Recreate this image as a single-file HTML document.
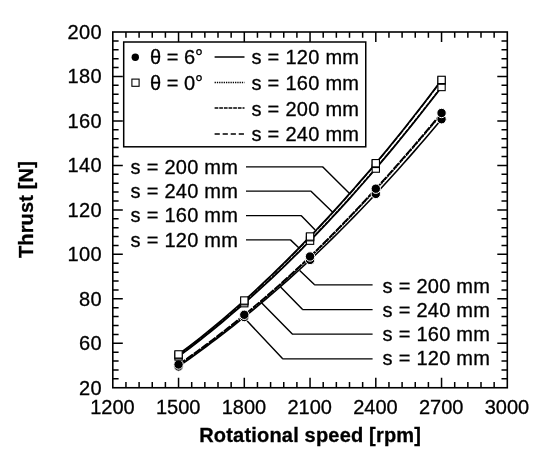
<!DOCTYPE html>
<html><head><meta charset="utf-8"><title>Thrust vs rotational speed</title>
<style>
html,body{margin:0;padding:0;background:#fff;}
svg{display:block;}
text{font-family:"Liberation Sans",Arial,sans-serif;font-size:20px;fill:#000;stroke:#000;stroke-width:0.3px;}
</style></head>
<body>
<svg width="550" height="464" viewBox="0 0 550 464">
<rect width="550" height="464" fill="#fff"/>
<rect x="112.8" y="32.0" width="394.50" height="355.75" fill="none" stroke="#000" stroke-width="1.6"/>
<path d="M125.95 387.75v-5.8M125.95 32.0v5.8M139.10 387.75v-5.8M139.10 32.0v5.8M152.25 387.75v-5.8M152.25 32.0v5.8M165.40 387.75v-5.8M165.40 32.0v5.8M178.55 387.75v-10.0M178.55 32.0v10.0M191.70 387.75v-5.8M191.70 32.0v5.8M204.85 387.75v-5.8M204.85 32.0v5.8M218.00 387.75v-5.8M218.00 32.0v5.8M231.15 387.75v-5.8M231.15 32.0v5.8M244.30 387.75v-10.0M244.30 32.0v10.0M257.45 387.75v-5.8M257.45 32.0v5.8M270.60 387.75v-5.8M270.60 32.0v5.8M283.75 387.75v-5.8M283.75 32.0v5.8M296.90 387.75v-5.8M296.90 32.0v5.8M310.05 387.75v-10.0M310.05 32.0v10.0M323.20 387.75v-5.8M323.20 32.0v5.8M336.35 387.75v-5.8M336.35 32.0v5.8M349.50 387.75v-5.8M349.50 32.0v5.8M362.65 387.75v-5.8M362.65 32.0v5.8M375.80 387.75v-10.0M375.80 32.0v10.0M388.95 387.75v-5.8M388.95 32.0v5.8M402.10 387.75v-5.8M402.10 32.0v5.8M415.25 387.75v-5.8M415.25 32.0v5.8M428.40 387.75v-5.8M428.40 32.0v5.8M441.55 387.75v-10.0M441.55 32.0v10.0M454.70 387.75v-5.8M454.70 32.0v5.8M467.85 387.75v-5.8M467.85 32.0v5.8M481.00 387.75v-5.8M481.00 32.0v5.8M494.15 387.75v-5.8M494.15 32.0v5.8M112.8 378.86h5.8M507.3 378.86h-5.8M112.8 369.96h5.8M507.3 369.96h-5.8M112.8 361.07h5.8M507.3 361.07h-5.8M112.8 352.18h5.8M507.3 352.18h-5.8M112.8 343.28h10.0M507.3 343.28h-10.0M112.8 334.39h5.8M507.3 334.39h-5.8M112.8 325.49h5.8M507.3 325.49h-5.8M112.8 316.60h5.8M507.3 316.60h-5.8M112.8 307.71h5.8M507.3 307.71h-5.8M112.8 298.81h10.0M507.3 298.81h-10.0M112.8 289.92h5.8M507.3 289.92h-5.8M112.8 281.02h5.8M507.3 281.02h-5.8M112.8 272.13h5.8M507.3 272.13h-5.8M112.8 263.24h5.8M507.3 263.24h-5.8M112.8 254.34h10.0M507.3 254.34h-10.0M112.8 245.45h5.8M507.3 245.45h-5.8M112.8 236.56h5.8M507.3 236.56h-5.8M112.8 227.66h5.8M507.3 227.66h-5.8M112.8 218.77h5.8M507.3 218.77h-5.8M112.8 209.88h10.0M507.3 209.88h-10.0M112.8 200.98h5.8M507.3 200.98h-5.8M112.8 192.09h5.8M507.3 192.09h-5.8M112.8 183.19h5.8M507.3 183.19h-5.8M112.8 174.30h5.8M507.3 174.30h-5.8M112.8 165.41h10.0M507.3 165.41h-10.0M112.8 156.51h5.8M507.3 156.51h-5.8M112.8 147.62h5.8M507.3 147.62h-5.8M112.8 138.73h5.8M507.3 138.73h-5.8M112.8 129.83h5.8M507.3 129.83h-5.8M112.8 120.94h10.0M507.3 120.94h-10.0M112.8 112.04h5.8M507.3 112.04h-5.8M112.8 103.15h5.8M507.3 103.15h-5.8M112.8 94.26h5.8M507.3 94.26h-5.8M112.8 85.36h5.8M507.3 85.36h-5.8M112.8 76.47h10.0M507.3 76.47h-10.0M112.8 67.57h5.8M507.3 67.57h-5.8M112.8 58.68h5.8M507.3 58.68h-5.8M112.8 49.79h5.8M507.3 49.79h-5.8M112.8 40.89h5.8M507.3 40.89h-5.8" stroke="#000" stroke-width="1.5" fill="none"/>
<text x="101.9" y="394.65" text-anchor="end" letter-spacing="0.35">20</text>
<text x="101.9" y="350.18" text-anchor="end" letter-spacing="0.35">60</text>
<text x="101.9" y="305.71" text-anchor="end" letter-spacing="0.35">80</text>
<text x="101.9" y="261.24" text-anchor="end" letter-spacing="0.35">100</text>
<text x="101.9" y="216.78" text-anchor="end" letter-spacing="0.35">120</text>
<text x="101.9" y="172.31" text-anchor="end" letter-spacing="0.35">140</text>
<text x="101.9" y="127.84" text-anchor="end" letter-spacing="0.35">160</text>
<text x="101.9" y="83.37" text-anchor="end" letter-spacing="0.35">180</text>
<text x="101.9" y="38.90" text-anchor="end" letter-spacing="0.35">200</text>
<text x="112.50" y="414.4" text-anchor="middle">1200</text>
<text x="178.25" y="414.4" text-anchor="middle">1500</text>
<text x="244.00" y="414.4" text-anchor="middle">1800</text>
<text x="309.75" y="414.4" text-anchor="middle">2100</text>
<text x="375.50" y="414.4" text-anchor="middle">2400</text>
<text x="441.25" y="414.4" text-anchor="middle">2700</text>
<text x="507.00" y="414.4" text-anchor="middle">3000</text>
<text x="199.2" y="442.0" textLength="221.8" lengthAdjust="spacing" font-weight="bold">Rotational speed [rpm]</text>
<text transform="translate(32.6 258.1) rotate(-90)" textLength="97" lengthAdjust="spacing" font-weight="bold">Thrust [N]</text>
<path d="M246 166.8H322.90000000000003M246 191.2H311.3M246 215.6H301.40000000000003M246 239.9H290.8M372.6 284.8H314.3M372.6 309.5H302.3M372.6 334.0H292.0M372.6 358.8H282.4" stroke="#000" stroke-width="1.25" fill="none"/>
<path d="M322.6 166.8L350.3 194.3M311.0 191.2L333.0 212.4M301.1 215.6L315.2 229.9M290.5 239.9L299.3 248.2M314.6 284.8L299.7 270.6M302.6 309.5L280.6 286.9M292.3 334.0L261.5 302.7M282.7 358.8L246.5 320.2" stroke="#000" stroke-width="1.45" fill="none"/>
<polyline points="178.55,366.50 184.03,362.65 189.51,358.75 194.99,354.80 200.47,350.80 205.95,346.75 211.43,342.65 216.90,338.50 222.38,334.30 227.86,330.05 233.34,325.75 238.82,321.40 244.30,317.00 249.78,312.55 255.26,308.04 260.74,303.49 266.22,298.88 271.70,294.21 277.18,289.49 282.65,284.71 288.13,279.87 293.61,274.97 299.09,270.01 304.57,264.99 310.05,259.90 315.53,254.75 321.01,249.53 326.49,244.25 331.97,238.90 337.45,233.49 342.93,228.02 348.40,222.49 353.88,216.89 359.36,211.24 364.84,205.52 370.32,199.74 375.80,193.90 381.28,188.00 386.76,182.04 392.24,176.03 397.72,169.95 403.20,163.82 408.68,157.62 414.15,151.37 419.63,145.05 425.11,138.68 430.59,132.24 436.07,125.75 441.55,119.20" fill="none" stroke="#000" stroke-width="1.6" stroke-linejoin="round"/>
<polyline points="178.55,365.60 184.03,361.77 189.51,357.89 194.99,353.95 200.47,349.95 205.95,345.89 211.43,341.78 216.90,337.61 222.38,333.38 227.86,329.10 233.34,324.76 238.82,320.36 244.30,315.90 249.78,311.39 255.26,306.81 260.74,302.18 266.22,297.49 271.70,292.73 277.18,287.91 282.65,283.03 288.13,278.08 293.61,273.06 299.09,267.98 304.57,262.82 310.05,257.60 315.53,252.30 321.01,246.94 326.49,241.50 331.97,236.00 337.45,230.44 342.93,224.81 348.40,219.12 353.88,213.37 359.36,207.56 364.84,201.69 370.32,195.77 375.80,189.80 381.28,183.77 386.76,177.70 392.24,171.57 397.72,165.39 403.20,159.16 408.68,152.88 414.15,146.54 419.63,140.16 425.11,133.72 430.59,127.23 436.07,120.69 441.55,114.10" fill="none" stroke="#000" stroke-width="1.3" stroke-linejoin="round" stroke-dasharray="1.3 1"/>
<polyline points="178.55,365.00 184.03,361.17 189.51,357.29 194.99,353.35 200.47,349.35 205.95,345.29 211.43,341.18 216.90,337.01 222.38,332.78 227.86,328.50 233.34,324.16 238.82,319.76 244.30,315.30 249.78,310.79 255.26,306.21 260.74,301.58 266.22,296.89 271.70,292.13 277.18,287.31 282.65,282.43 288.13,277.48 293.61,272.46 299.09,267.38 304.57,262.22 310.05,257.00 315.53,251.70 321.01,246.34 326.49,240.90 331.97,235.40 337.45,229.84 342.93,224.21 348.40,218.52 353.88,212.77 359.36,206.96 364.84,201.09 370.32,195.17 375.80,189.20 381.28,183.17 386.76,177.10 392.24,170.97 397.72,164.79 403.20,158.56 408.68,152.28 414.15,145.94 419.63,139.56 425.11,133.12 430.59,126.63 436.07,120.09 441.55,113.50" fill="none" stroke="#000" stroke-width="1.5" stroke-linejoin="round" stroke-dasharray="3.7 1"/>
<polyline points="178.55,364.50 184.03,360.67 189.51,356.79 194.99,352.85 200.47,348.85 205.95,344.79 211.43,340.68 216.90,336.51 222.38,332.28 227.86,328.00 233.34,323.66 238.82,319.26 244.30,314.80 249.78,310.29 255.26,305.71 260.74,301.08 266.22,296.39 271.70,291.63 277.18,286.81 282.65,281.93 288.13,276.98 293.61,271.96 299.09,266.88 304.57,261.72 310.05,256.50 315.53,251.20 321.01,245.84 326.49,240.40 331.97,234.90 337.45,229.34 342.93,223.71 348.40,218.02 353.88,212.27 359.36,206.46 364.84,200.59 370.32,194.67 375.80,188.70 381.28,182.67 386.76,176.60 392.24,170.47 397.72,164.29 403.20,158.06 408.68,151.78 414.15,145.44 419.63,139.06 425.11,132.62 430.59,126.13 436.07,119.59 441.55,113.00" fill="none" stroke="#000" stroke-width="1.7" stroke-linejoin="round" stroke-dasharray="8 1.4"/>
<polyline points="178.55,356.50 184.03,352.41 189.51,348.25 194.99,344.03 200.47,339.74 205.95,335.40 211.43,330.99 216.90,326.51 222.38,321.98 227.86,317.38 233.34,312.71 238.82,307.99 244.30,303.20 249.78,298.35 255.26,293.43 260.74,288.45 266.22,283.41 271.70,278.30 277.18,273.13 282.65,267.89 288.13,262.58 293.61,257.21 299.09,251.78 304.57,246.27 310.05,240.70 315.53,235.06 321.01,229.35 326.49,223.58 331.97,217.74 337.45,211.83 342.93,205.85 348.40,199.81 353.88,193.70 359.36,187.52 364.84,181.28 370.32,174.97 375.80,168.60 381.28,162.16 386.76,155.66 392.24,149.09 397.72,142.45 403.20,135.75 408.68,128.98 414.15,122.15 419.63,115.25 425.11,108.29 430.59,101.26 436.07,94.16 441.55,87.00" fill="none" stroke="#000" stroke-width="1.7" stroke-linejoin="round"/>
<polyline points="178.55,356.00 184.03,351.91 189.51,347.75 194.99,343.53 200.47,339.24 205.95,334.90 211.43,330.49 216.90,326.01 222.38,321.48 227.86,316.88 233.34,312.21 238.82,307.49 244.30,302.70 249.78,297.85 255.26,292.93 260.74,287.95 266.22,282.91 271.70,277.80 277.18,272.63 282.65,267.39 288.13,262.08 293.61,256.71 299.09,251.28 304.57,245.77 310.05,240.20 315.53,234.56 321.01,228.85 326.49,223.08 331.97,217.24 337.45,211.33 342.93,205.35 348.40,199.31 353.88,193.20 359.36,187.02 364.84,180.78 370.32,174.47 375.80,168.10 381.28,161.66 386.76,155.16 392.24,148.59 397.72,141.95 403.20,135.25 408.68,128.48 414.15,121.65 419.63,114.75 425.11,107.79 430.59,100.76 436.07,93.66 441.55,86.50" fill="none" stroke="#000" stroke-width="1.4" stroke-linejoin="round" stroke-dasharray="3.7 1"/>
<polyline points="178.55,354.90 184.03,350.80 189.51,346.64 194.99,342.40 200.47,338.08 205.95,333.70 211.43,329.25 216.90,324.72 222.38,320.12 227.86,315.45 233.34,310.70 238.82,305.89 244.30,301.00 249.78,296.04 255.26,291.01 260.74,285.91 266.22,280.74 271.70,275.50 277.18,270.20 282.65,264.83 288.13,259.39 293.61,253.89 299.09,248.32 304.57,242.69 310.05,237.00 315.53,231.25 321.01,225.43 326.49,219.56 331.97,213.62 337.45,207.61 342.93,201.54 348.40,195.40 353.88,189.20 359.36,182.93 364.84,176.59 370.32,170.18 375.80,163.70 381.28,157.15 386.76,150.53 392.24,143.83 397.72,137.07 403.20,130.24 408.68,123.33 414.15,116.35 419.63,109.30 425.11,102.19 430.59,94.99 436.07,87.73 441.55,80.40" fill="none" stroke="#000" stroke-width="1.4" stroke-linejoin="round" stroke-dasharray="8 1.4"/>
<polyline points="178.55,354.40 184.03,350.30 189.51,346.14 194.99,341.90 200.47,337.58 205.95,333.20 211.43,328.75 216.90,324.22 222.38,319.62 227.86,314.95 233.34,310.20 238.82,305.39 244.30,300.50 249.78,295.54 255.26,290.51 260.74,285.41 266.22,280.24 271.70,275.00 277.18,269.70 282.65,264.33 288.13,258.89 293.61,253.39 299.09,247.82 304.57,242.19 310.05,236.50 315.53,230.75 321.01,224.93 326.49,219.06 331.97,213.12 337.45,207.11 342.93,201.04 348.40,194.90 353.88,188.70 359.36,182.43 364.84,176.09 370.32,169.68 375.80,163.20 381.28,156.65 386.76,150.03 392.24,143.33 397.72,136.57 403.20,129.74 408.68,122.83 414.15,115.85 419.63,108.80 425.11,101.69 430.59,94.49 436.07,87.23 441.55,79.90" fill="none" stroke="#000" stroke-width="1.7" stroke-linejoin="round"/>
<circle cx="178.55" cy="366.50" r="4.7" fill="#000" stroke="#fff" stroke-width="1"/>
<circle cx="244.30" cy="317.00" r="4.7" fill="#000" stroke="#fff" stroke-width="1"/>
<circle cx="310.05" cy="259.90" r="4.7" fill="#000" stroke="#fff" stroke-width="1"/>
<circle cx="375.80" cy="193.90" r="4.7" fill="#000" stroke="#fff" stroke-width="1"/>
<circle cx="441.55" cy="119.20" r="4.7" fill="#000" stroke="#fff" stroke-width="1"/>
<circle cx="178.55" cy="364.50" r="4.7" fill="#000" stroke="#fff" stroke-width="1"/>
<circle cx="244.30" cy="314.80" r="4.7" fill="#000" stroke="#fff" stroke-width="1"/>
<circle cx="310.05" cy="256.50" r="4.7" fill="#000" stroke="#fff" stroke-width="1"/>
<circle cx="375.80" cy="188.70" r="4.7" fill="#000" stroke="#fff" stroke-width="1"/>
<circle cx="441.55" cy="113.00" r="4.7" fill="#000" stroke="#fff" stroke-width="1"/>
<rect x="174.90" y="352.85" width="7.3" height="7.3" fill="#fff" stroke="#000" stroke-width="1.1"/>
<rect x="240.65" y="299.55" width="7.3" height="7.3" fill="#fff" stroke="#000" stroke-width="1.1"/>
<rect x="306.40" y="237.05" width="7.3" height="7.3" fill="#fff" stroke="#000" stroke-width="1.1"/>
<rect x="372.15" y="164.95" width="7.3" height="7.3" fill="#fff" stroke="#000" stroke-width="1.1"/>
<rect x="437.90" y="83.35" width="7.3" height="7.3" fill="#fff" stroke="#000" stroke-width="1.1"/>
<rect x="174.90" y="351.45" width="7.3" height="7.3" fill="#fff" stroke="#000" stroke-width="1.1"/>
<rect x="240.65" y="297.55" width="7.3" height="7.3" fill="#fff" stroke="#000" stroke-width="1.1"/>
<rect x="306.40" y="233.55" width="7.3" height="7.3" fill="#fff" stroke="#000" stroke-width="1.1"/>
<rect x="372.15" y="160.25" width="7.3" height="7.3" fill="#fff" stroke="#000" stroke-width="1.1"/>
<rect x="437.90" y="76.95" width="7.3" height="7.3" fill="#fff" stroke="#000" stroke-width="1.1"/>
<rect x="174.90" y="350.75" width="7.3" height="7.3" fill="#fff" stroke="#000" stroke-width="1.1"/>
<rect x="240.65" y="296.85" width="7.3" height="7.3" fill="#fff" stroke="#000" stroke-width="1.1"/>
<rect x="306.40" y="232.85" width="7.3" height="7.3" fill="#fff" stroke="#000" stroke-width="1.1"/>
<rect x="372.15" y="159.55" width="7.3" height="7.3" fill="#fff" stroke="#000" stroke-width="1.1"/>
<rect x="437.90" y="76.25" width="7.3" height="7.3" fill="#fff" stroke="#000" stroke-width="1.1"/>
<text x="130.6" y="173.9" textLength="107.3" lengthAdjust="spacing">s = 200 mm</text>
<text x="130.6" y="198.1" textLength="107.3" lengthAdjust="spacing">s = 240 mm</text>
<text x="130.6" y="222.3" textLength="107.3" lengthAdjust="spacing">s = 160 mm</text>
<text x="130.6" y="246.7" textLength="107.3" lengthAdjust="spacing">s = 120 mm</text>
<text x="382.6" y="292.5" textLength="107.3" lengthAdjust="spacing">s = 200 mm</text>
<text x="382.6" y="316.7" textLength="107.3" lengthAdjust="spacing">s = 240 mm</text>
<text x="382.6" y="340.9" textLength="107.3" lengthAdjust="spacing">s = 160 mm</text>
<text x="382.6" y="365.1" textLength="107.3" lengthAdjust="spacing">s = 120 mm</text>
<rect x="123.7" y="42" width="242.05" height="104.80" fill="#fff" stroke="#000" stroke-width="1.5"/>
<circle cx="135.3" cy="57.3" r="3.7" fill="#000"/>
<rect x="131.9" y="79.1" width="7.2" height="7.2" fill="#fff" stroke="#000" stroke-width="1.1"/>
<text x="150" y="64.2">θ = 6°</text>
<text x="150" y="89.8">θ = 0°</text>
<path d="M214.6 57.0H244.5" stroke="#000" stroke-width="1.5"/>
<path d="M214.6 82.6H244.5" stroke="#000" stroke-width="1.5" stroke-dasharray="1.3 0.97"/>
<path d="M214.6 108.0H244.5" stroke="#000" stroke-width="1.5" stroke-dasharray="3.7 0.95"/>
<path d="M214.6 133.9H244.5" stroke="#000" stroke-width="1.5" stroke-dasharray="5.2 2.85"/>
<text x="251.5" y="64.1" textLength="107.5" lengthAdjust="spacing">s = 120 mm</text>
<text x="251.5" y="89.7" textLength="107.5" lengthAdjust="spacing">s = 160 mm</text>
<text x="251.5" y="115.7" textLength="107.5" lengthAdjust="spacing">s = 200 mm</text>
<text x="251.5" y="141.0" textLength="107.5" lengthAdjust="spacing">s = 240 mm</text>
</svg>
</body></html>
